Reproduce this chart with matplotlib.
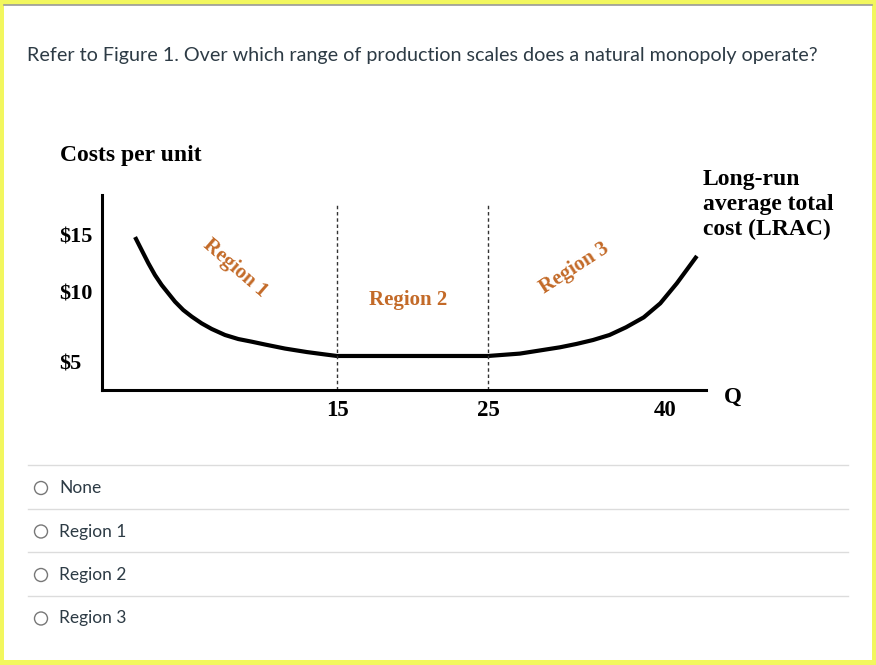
import numpy as np
import matplotlib.pyplot as plt
from matplotlib.patches import Rectangle, Circle

# values
q_vals = [2.11, 2.53, 2.96, 3.38, 3.81, 4.23, 4.66, 5.19, 5.73, 6.36, 7.0,
          7.85, 8.7, 9.56, 10.4, 11.68, 13.08, 14.23, 15.0,
          25.0, 27.7, 31.1, 32.5, 33.9, 35.3, 36.7, 38.2, 39.6, 41.0, 42.0, 42.7]
cost_vals = [14.82, 13.68, 12.52, 11.49, 10.61, 9.91, 9.31, 8.71, 8.24, 7.76, 7.36,
             6.93, 6.64, 6.45, 6.25, 5.96, 5.71, 5.54, 5.43,
             5.43, 5.6, 6.05, 6.29, 6.57, 6.93, 7.48, 8.19, 9.19, 10.76, 12.17, 13.16]
q_ticks = [15, 25, 40]
q_ticklabels = ["15", "25", "40"]
cost_ticks = [5, 10, 15]
cost_ticklabels = ["$5", "$10", "$15"]
region_bounds = [15, 25]
question = "Refer to Figure 1. Over which range of production scales does a natural monopoly operate?"
options = ["None", "Region 1", "Region 2", "Region 3"]

# the drawing is not to scale, so the axes use piecewise scales
q_knots = [0, 15, 25, 40, 43.47]
q_px = [0, 235, 386, 563, 604]
c_knots = [3, 5, 10, 15, 18.5]
c_px = [0, 28, 98, 155, 195]

serif = "Liberation Serif"
orange = "#c36a28"
W, H = 876, 665

fig = plt.figure(figsize=(W / 100, H / 100), dpi=100, facecolor="#f2f75e")

# page background, question and answer options
bg = fig.add_axes([0, 0, 1, 1])
bg.set_xlim(0, W)
bg.set_ylim(H, 0)
bg.axis("off")
bg.add_patch(Rectangle((4, 5), 868, 655, fc="white", ec="none"))
bg.plot([4, 872], [4.5, 4.5], color="#9a9a9a", lw=1.2)
bg.text(27, 56, question, family="Lato", fontsize=14.25, color="#2d3b45", va="center")
for i, opt in enumerate(options):
    y = 488 + i * 43.5
    bg.plot([28, 848], [y - 23, y - 23], color="#dcdcdc", lw=1)
    bg.add_patch(Circle((41, y), 6.5, fc="white", ec="#777777", lw=1))
    bg.text(59, y, opt, family="Lato", fontsize=12.5, color="#2d3b45", va="center")

# chart
ax = fig.add_axes([102 / W, (H - 390) / H, 604 / W, 195 / H], zorder=2)
ax.patch.set_alpha(0)
ax.set_xscale("function", functions=(lambda x: np.interp(x, q_knots, q_px),
                                     lambda v: np.interp(v, q_px, q_knots)))
ax.set_yscale("function", functions=(lambda y: np.interp(y, c_knots, c_px),
                                     lambda v: np.interp(v, c_px, c_knots)))
ax.set_xlim(0, 43.47)
ax.set_ylim(3, 18.5)

ax.plot(q_vals, cost_vals, color="black", lw=3, solid_joinstyle="round",
        solid_capstyle="butt")
ax.vlines(region_bounds, 3, 17.63, color="#333333", lw=1, linestyles=(0, (2.5, 2)))

for side in ["top", "right"]:
    ax.spines[side].set_visible(False)
for side in ["left", "bottom"]:
    ax.spines[side].set_linewidth(2.2)
    ax.spines[side].set_capstyle("projecting")

ax.set_xticks(q_ticks, q_ticklabels)
ax.set_yticks(cost_ticks, cost_ticklabels)
ax.minorticks_off()
ax.tick_params(axis="x", length=0, pad=7)
ax.tick_params(axis="y", length=0, pad=31)
for lab in ax.get_xticklabels():
    lab.set(family=serif, fontweight="bold", fontsize=16.5)
for lab in ax.get_yticklabels():
    lab.set(family=serif, fontweight="bold", fontsize=16, ha="left")

ax.text(8.49, 12.11, "Region 1", rotation=-41, ha="center", va="center",
        family=serif, fontweight="bold", fontsize=15, color=orange)
ax.text(19.7, 9.43, "Region 2", ha="center", va="center",
        family=serif, fontweight="bold", fontsize=15, color=orange)
ax.text(32.29, 12.11, "Region 3", rotation=33, ha="center", va="center",
        family=serif, fontweight="bold", fontsize=15, color=orange)

ax.text(-0.07, 1.205, "Costs per unit", transform=ax.transAxes, va="center",
        family=serif, fontweight="bold", fontsize=17)
ax.text(1.045, -0.036, "Q", transform=ax.transAxes, va="center", ha="center",
        family=serif, fontweight="bold", fontsize=16.5)
ax.text(0.995, 1.135, "Long-run\naverage total\ncost (LRAC)", transform=ax.transAxes,
        va="top", ha="left", family=serif, fontweight="bold", fontsize=17,
        linespacing=1.26)

fig.savefig("out.png", dpi=100, facecolor=fig.get_facecolor())
